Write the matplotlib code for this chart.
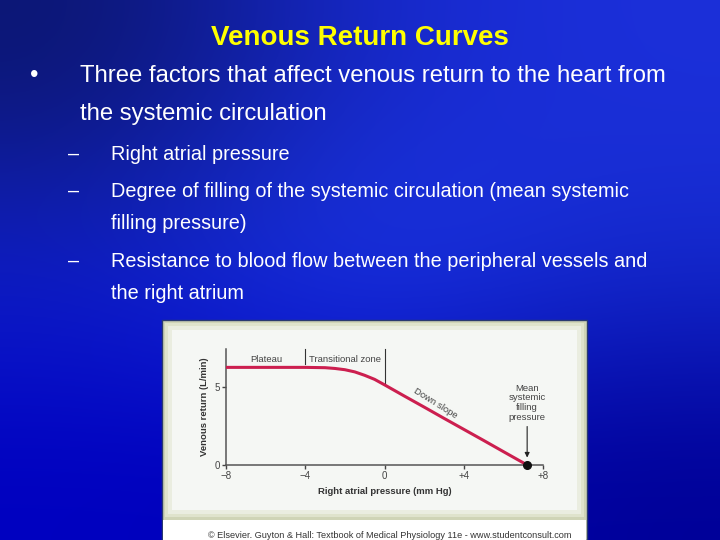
import numpy as np
import matplotlib
matplotlib.use("Agg")
import matplotlib.pyplot as plt
from matplotlib.patches import Rectangle

plt.rcParams['font.family'] = ['Liberation Sans', 'DejaVu Sans']

# slide text
title = "Venous Return Curves"
bullet_lines = ["Three factors that affect venous return to the heart from",
                "the systemic circulation"]
sub_items = [["Right atrial pressure"],
             ["Degree of filling of the systemic circulation (mean systemic",
              "filling pressure)"],
             ["Resistance to blood flow between the peripheral vessels and",
              "the right atrium"]]
caption = "\u00a9 Elsevier. Guyton & Hall: Textbook of Medical Physiology 11e - www.studentconsult.com"

# venous return curve
rap = [-8, -4, -3, -2.5, -2, -1.5, -1, -0.5, 0, 0.5, 1, 2, 3, 4, 5, 6, 7.2]
venous_return = [6.27, 6.27, 6.25, 6.2, 6.12, 5.98, 5.76, 5.5, 5.15, 4.79, 4.43,
                 3.72, 3.0, 2.29, 1.58, 0.86, 0.0]
msfp = 7.2
xticks = [-8, -4, 0, 4, 8]
xticklabels = ["\u22128", "\u22124", "0", "+4", "+8"]
yticks = [0, 5]

W, H = 720, 540
fig = plt.figure(figsize=(7.2, 5.4), dpi=100)

# background gradient of the slide
bg = fig.add_axes([0, 0, 1, 1])
grid = np.array([
    [[12, 22, 112], [22, 40, 205], [28, 48, 218]],
    [[16, 34, 205], [30, 60, 236], [20, 42, 205]],
    [[0, 0, 192], [0, 0, 182], [0, 0, 150]],
]) / 255.0
bg.imshow(grid, extent=[0, 1, 0, 1], origin='upper', interpolation='bicubic',
          aspect='auto')
bg.set_xlim(0, 1)
bg.set_ylim(0, 1)
bg.axis('off')

def fx(px):
    return px / W

def fy(py):
    return 1 - py / H

# title and bullets
fig.text(0.5, fy(45), title, color='#ffff00', fontsize=20, fontweight='bold',
         ha='center', va='baseline')
fig.text(fx(30), fy(82), "\u2022", color='white', fontsize=17.2, va='baseline')
fig.text(fx(80), fy(82), bullet_lines[0], color='white', fontsize=17.2, va='baseline')
fig.text(fx(80), fy(120), bullet_lines[1], color='white', fontsize=17.2, va='baseline')

sub_base = [[160], [197, 229], [267, 299]]
for lines, bases in zip(sub_items, sub_base):
    fig.text(fx(68), fy(bases[0]), "\u2013", color='white', fontsize=14.3, va='baseline')
    for txt, b in zip(lines, bases):
        fig.text(fx(111), fy(b), txt, color='white', fontsize=14.3, va='baseline')

# picture frame
fig.patches.append(Rectangle((fx(162), 0), fx(587) - fx(162), fy(320),
                             transform=fig.transFigure, facecolor='#cfd4b6',
                             edgecolor='#2a3a70', lw=1, zorder=1))
fig.patches.append(Rectangle((fx(165), fy(517)), fx(584) - fx(165), fy(323) - fy(517),
                             transform=fig.transFigure, facecolor='#dfe3cc',
                             edgecolor='none', zorder=1))
fig.patches.append(Rectangle((fx(168), fy(514)), fx(581) - fx(168), fy(326) - fy(514),
                             transform=fig.transFigure, facecolor='#eaede0',
                             edgecolor='none', zorder=1))
fig.patches.append(Rectangle((fx(172), fy(510)), fx(577) - fx(172), fy(330) - fy(510),
                             transform=fig.transFigure, facecolor='#f5f7f4',
                             edgecolor='none', zorder=1))
fig.patches.append(Rectangle((fx(163), 0), fx(586) - fx(163), fy(520),
                             transform=fig.transFigure, facecolor='white',
                             edgecolor='none', zorder=1))
fig.text(fx(390), fy(538), caption, color='#333333', fontsize=6.6,
         ha='center', va='baseline', zorder=3)

# chart
ax = fig.add_axes([fx(226), fy(465), fx(543) - fx(226), fy(349) - fy(465)])
ax.set_zorder(3)
ax.patch.set_alpha(0)
ax.set_xlim(-8, 8)
ax.set_ylim(0, 7.45)
ax.plot(rap, venous_return, color='#cc1f4f', lw=2.2, solid_capstyle='butt', zorder=3)
ax.plot([msfp], [0], 'o', color='#111111', ms=5.5, zorder=4, clip_on=False)

grey = '#444444'
for s in ['top', 'right']:
    ax.spines[s].set_visible(False)
for s in ['left', 'bottom']:
    ax.spines[s].set_color('#555555')
    ax.spines[s].set_linewidth(1.1)
ax.set_xticks(xticks)
ax.set_xticklabels(xticklabels)
ax.set_yticks(yticks)
ax.tick_params(colors=grey, labelsize=7, length=3, width=1, pad=1.5)
ax.set_xlabel("Right atrial pressure (mm Hg)", fontsize=6.8, fontweight='bold',
              color='#333333', labelpad=4)
ax.set_ylabel("Venous return (L/min)", fontsize=6.8, fontweight='bold',
              color='#333333', labelpad=4)

# zone markers
ax.plot([-4, -4], [6.46, 7.42], color='#333333', lw=0.8, clip_on=False)
ax.plot([0, 0], [5.28, 7.42], color='#333333', lw=0.8, clip_on=False)
ax.text(-5.95, 6.78, "Plateau", fontsize=6.8, color=grey, ha='center', va='center')
ax.text(-2.0, 6.78, "Transitional zone", fontsize=6.8, color=grey, ha='center', va='center')
ax.text(2.55, 3.95, "Down slope", fontsize=6.8, color=grey, ha='center', va='center',
        rotation=-32)
ax.text(msfp, 4.0, "Mean\nsystemic\nfilling\npressure", fontsize=6.8, color=grey,
        ha='center', va='center', linespacing=1.1)
ax.annotate("", xy=(msfp, 0.3), xytext=(msfp, 2.65),
            arrowprops=dict(arrowstyle='-|>', color='#222222', lw=0.8,
                            mutation_scale=7))

fig.savefig("out.png", dpi=100)
